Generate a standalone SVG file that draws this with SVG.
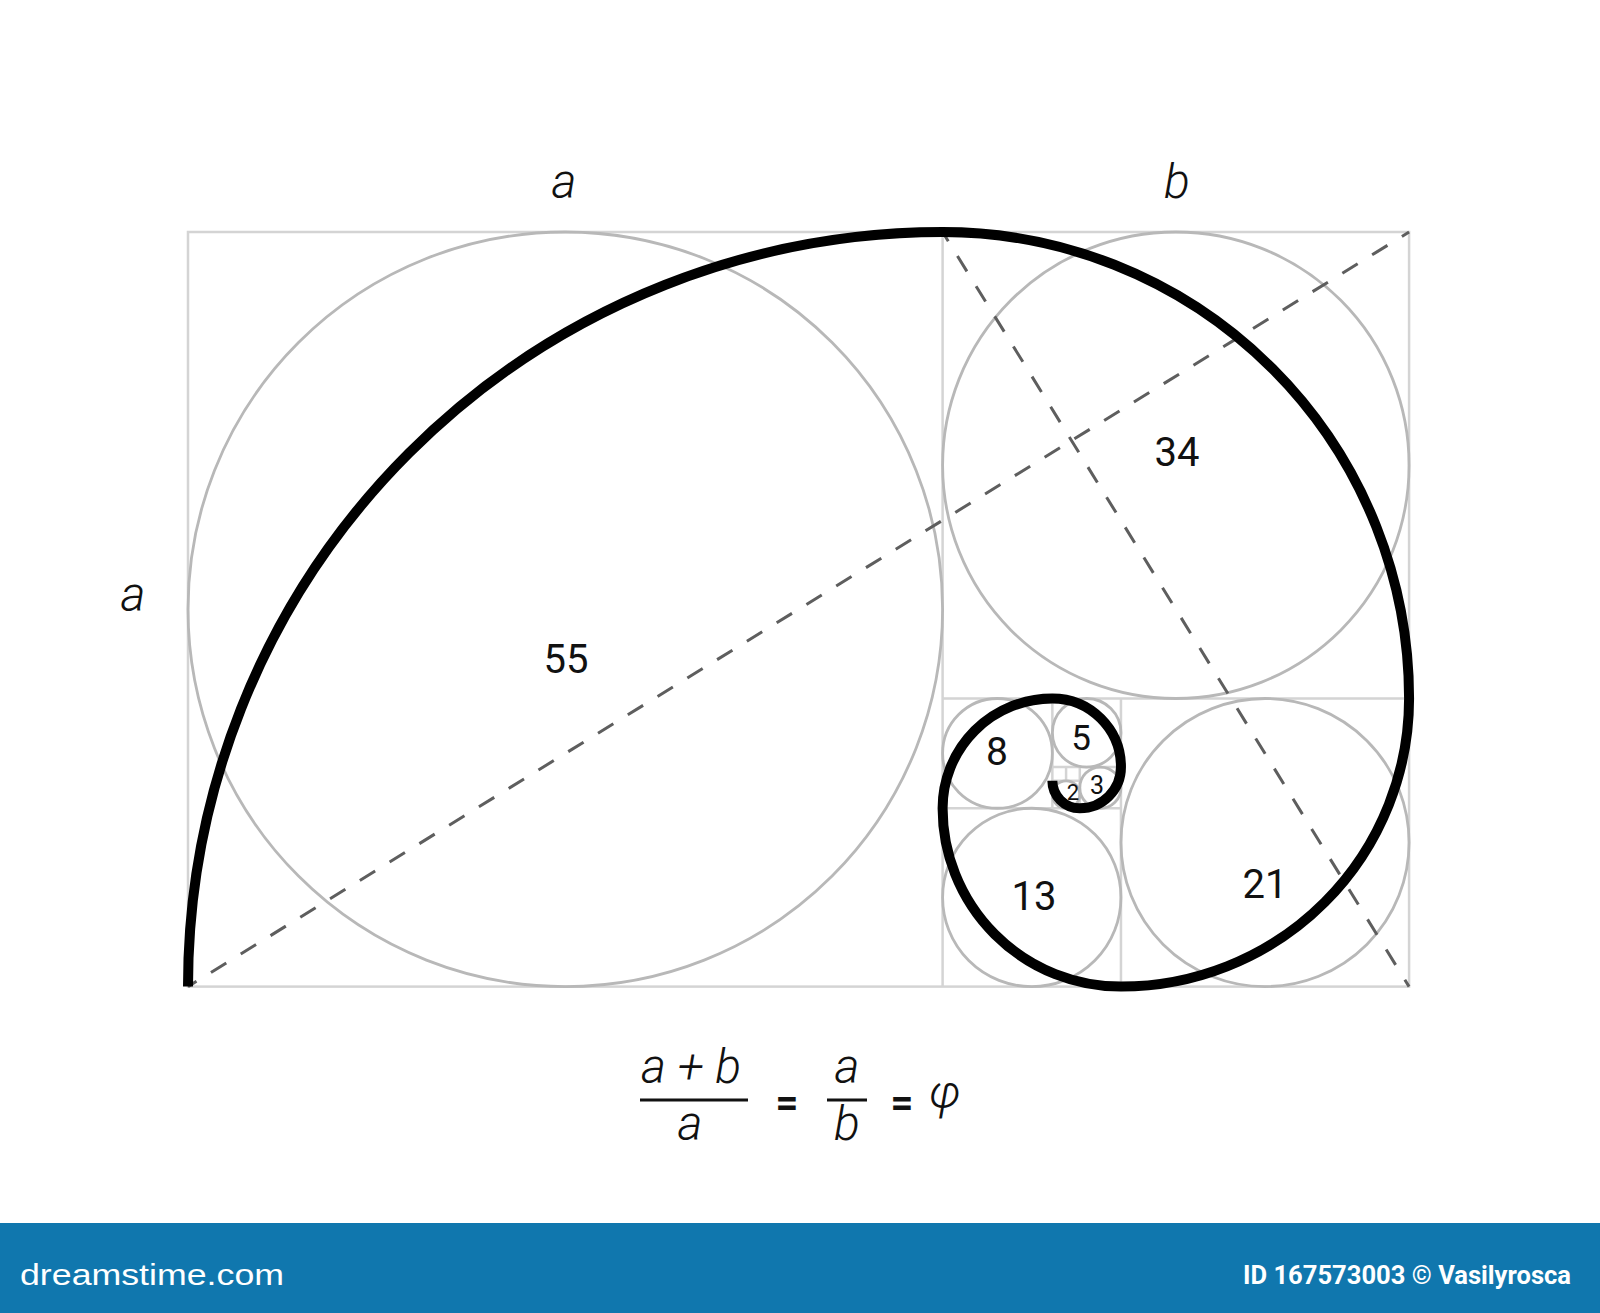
<svg xmlns="http://www.w3.org/2000/svg" width="1600" height="1313" viewBox="0 0 1600 1313">
<style>
.grid{fill:none;stroke:#d4d4d4;stroke-width:2.5}
.circ{fill:none;stroke:#b8b8b8;stroke-width:2.8}
.dash{fill:none;stroke:#5e5e5e;stroke-width:3}
.spiral{fill:none;stroke:#000;stroke-width:10;stroke-linecap:butt}
.num{font-family:Roboto,"Liberation Sans",sans-serif;font-weight:400;fill:#111;text-anchor:middle}
.var{font-family:Roboto,"Liberation Sans",sans-serif;font-weight:300;font-style:italic;fill:#111;text-anchor:middle;font-size:48px}
.eq{font-family:Roboto,"Liberation Sans",sans-serif;font-weight:300;font-style:italic;fill:#111;text-anchor:middle;font-size:48px}
.op{font-family:Roboto,"Liberation Sans",sans-serif;font-weight:700;fill:#111;text-anchor:middle;font-size:40px}
.bar{stroke:#111;stroke-width:3}
</style>
<rect width="1600" height="1313" fill="#fff"/>
<g id="grid">
<rect class="grid" x="188" y="232" width="1221.08" height="754.6"/>
<path class="grid" d="M942.6 232V986.6M942.6 698.48H1409.08M1120.96 698.48V986.6M942.6 808.24H1120.96M1052.36 698.48V808.24M1052.36 767.08H1120.96M1079.8 767.08V808.24M1052.36 780.8H1079.8M1066.08 767.08V780.8"/>
</g>
<g id="sq55"><circle class="circ" cx="565.3" cy="609.3" r="377.3"/><text class="num" x="566" y="673" font-size="40">55</text></g>
<g id="sq34"><circle class="circ" cx="1175.84" cy="465.24" r="233.24"/><text class="num" x="1177" y="466" font-size="40">34</text></g>
<g id="sq21"><circle class="circ" cx="1265.02" cy="842.54" r="144.06"/><text class="num" x="1265" y="898" font-size="40">21</text></g>
<g id="sq13"><circle class="circ" cx="1031.78" cy="897.42" r="89.18"/><text class="num" x="1034" y="910" font-size="40">13</text></g>
<g id="sq8"><circle class="circ" cx="997.48" cy="753.36" r="54.88"/><text class="num" x="997" y="765" font-size="39">8</text></g>
<g id="sq5"><circle class="circ" cx="1086.66" cy="732.78" r="34.3"/><text class="num" x="1081" y="750" font-size="35">5</text></g>
<g id="sq3"><circle class="circ" cx="1100.38" cy="787.66" r="20.58"/><text class="num" x="1097" y="794" font-size="25">3</text></g>
<g id="sq2"><circle class="circ" cx="1066.08" cy="794.52" r="13.72"/><text class="num" x="1073" y="800" font-size="22">2</text></g>
<g id="connectors">
<line class="dash" x1="188" y1="986.6" x2="1409.08" y2="232" stroke-dasharray="18 17" stroke-dashoffset="8"/>
<line class="dash" x1="942.6" y1="232" x2="1409.08" y2="986.6" stroke-dasharray="18 17.45" stroke-dashoffset="7.2"/>
<path class="spiral" d="M188 986.6A754.6 754.6 0 0 1 942.6 232A466.48 466.48 0 0 1 1409.08 698.48A288.12 288.12 0 0 1 1120.96 986.6A178.36 178.36 0 0 1 942.6 808.24A109.76 109.76 0 0 1 1052.36 698.48A68.6 68.6 0 0 1 1120.96 767.08A41.16 41.16 0 0 1 1079.8 808.24A27.44 27.44 0 0 1 1052.36 780.8"/>
</g>
<g id="labels">
<text class="var" x="564" y="198">a</text>
<text class="var" x="1177" y="198">b</text>
<text class="var" x="133" y="611">a</text>
</g>
<g id="formula">
<text class="eq" x="691" y="1083">a + b</text>
<line class="bar" x1="640" y1="1100" x2="748" y2="1100"/>
<text class="eq" x="690" y="1140">a</text>
<text class="op" x="787" y="1116">=</text>
<text class="eq" x="847" y="1083">a</text>
<line class="bar" x1="827" y1="1100" x2="867" y2="1100"/>
<text class="eq" x="847" y="1140">b</text>
<text class="op" x="902" y="1116">=</text>
<text class="eq" x="945" y="1108">φ</text>
</g>
<g id="banner">
<rect x="0" y="1223" width="1600" height="90" fill="#1077ae"/>
<text x="20" y="1285" font-family="'Liberation Sans',sans-serif" font-size="30" fill="#fff" textLength="264" lengthAdjust="spacingAndGlyphs">dreamstime.com</text>
<text x="1243" y="1284" font-family="Roboto,'Liberation Sans',sans-serif" font-weight="700" font-size="26" fill="#fff" textLength="328" lengthAdjust="spacingAndGlyphs">ID 167573003 © Vasilyrosca</text>
</g>
</svg>
